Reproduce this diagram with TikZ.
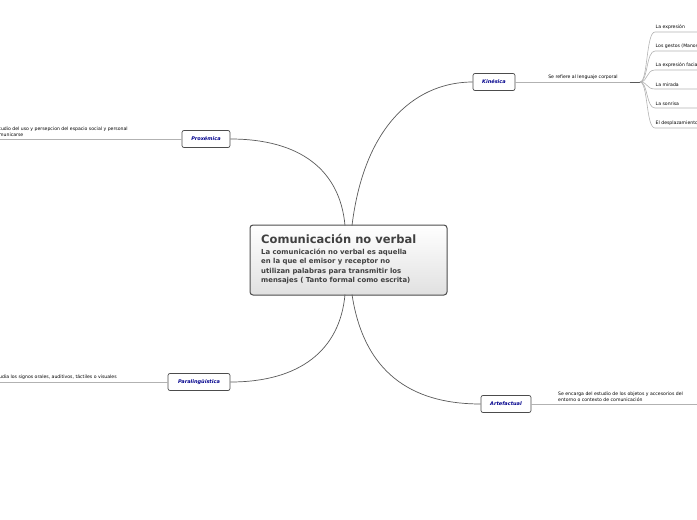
\documentclass[tikz,border=0pt]{standalone}
\usepackage{fontspec}
\setmainfont{DejaVu Sans}
\begin{document}
\begin{tikzpicture}[x=1pt,y=-1pt,
  topic/.style={draw=black!70,fill=white,rounded corners=2pt,line width=0.7pt,minimum height=17pt,font=\fontsize{5}{6}\selectfont\bfseries\itshape,text=blue!55!black,inner xsep=4pt},
  conn/.style={draw=black!65,line width=0.7pt},
  thin/.style={draw=black!30,line width=0.6pt},
  lbl/.style={font=\fontsize{4.6}{5.4}\selectfont,inner sep=0pt,align=left}]
\useasboundingbox (0,0) rectangle (697,520);
\begin{scope}
\clip (0,0) rectangle (697,520);
\node[draw=black!70,line width=1pt,rounded corners=3pt,top color=white,bottom color=black!12,minimum width=197pt,minimum height=70pt,inner sep=0pt] (c) at (348.5,260) {};
\node[anchor=north west,inner sep=0pt,font=\fontsize{11.5}{13}\selectfont\bfseries,text=black!75] (ct) at (261,234) {Comunicación no verbal};
\node[anchor=north west,inner sep=0pt,align=left,font=\fontsize{6.9}{9.5}\selectfont\bfseries,text=black!75] (cs) at (261,248.5)
 {La comunicación no verbal es aquella\\en la que el emisor y receptor no\\utilizan palabras para transmitir los\\mensajes ( Tanto formal como escrita)};
\node[topic,minimum width=42pt] (k) at (494,82) {Kinésica};
\node[topic,minimum width=48pt] (p) at (206,139) {Proxémica};
\node[topic,minimum width=62pt] (pl) at (199,382) {Paralingüística};
\node[topic,minimum width=50pt] (a) at (506,404) {Artefactual};
\coordinate (ct1) at (345,225.5); \coordinate (ct2) at (352,225.5);
\coordinate (cb1) at (345,294.5); \coordinate (cb2) at (352,294.5);
\draw[conn] (ct1) .. controls (340,170) and (300,139) .. (p.east);
\draw[conn] (ct2) .. controls (365,120) and (420,82) .. (k.west);
\draw[conn] (cb1) .. controls (340,350) and (300,382) .. (pl.east);
\draw[conn] (cb2) .. controls (365,380) and (420,404) .. (a.west);
\coordinate (kh) at (640,82);
\draw[thin] (k.east) -- (kh);
\draw[conn,line width=1pt] (630,82) -- (kh);
\node[lbl,anchor=south] at (583,79.5) {Se refiere al lenguaje corporal};
\foreach \y/\t in {32/La expresión,51/Los gestos (Manos),70/La expresión facial,89/La mirada,108/La sonrisa,128/El desplazamiento}{
  \draw[thin] (kh) .. controls (648,82) and (646,\y) .. (655,\y) -- (697,\y);
  \node[lbl,anchor=south west] at (655.5,\y-2.5) {\t};
}
\coordinate (pe) at (0,139);
\draw[thin] (p.west) -- (pe);
\node[lbl,anchor=south west] at (-1,136.5) {tudio del uso y persepcion del espacio social y personal\\ municarse};
\coordinate (ple) at (0,382);
\draw[thin] (pl.west) -- (ple);
\node[lbl,anchor=south west] at (-1,379.5) {udia los signos orales, auditivos, táctiles o visuales};
\coordinate (ae) at (697,404);
\draw[thin] (a.east) -- (ae);
\node[lbl,anchor=south west] at (558,401.5) {Se encarga del estudio de los objetos y accesorios del\\entorno o contexto de comunicación};
\end{scope}
\end{tikzpicture}
\end{document}
